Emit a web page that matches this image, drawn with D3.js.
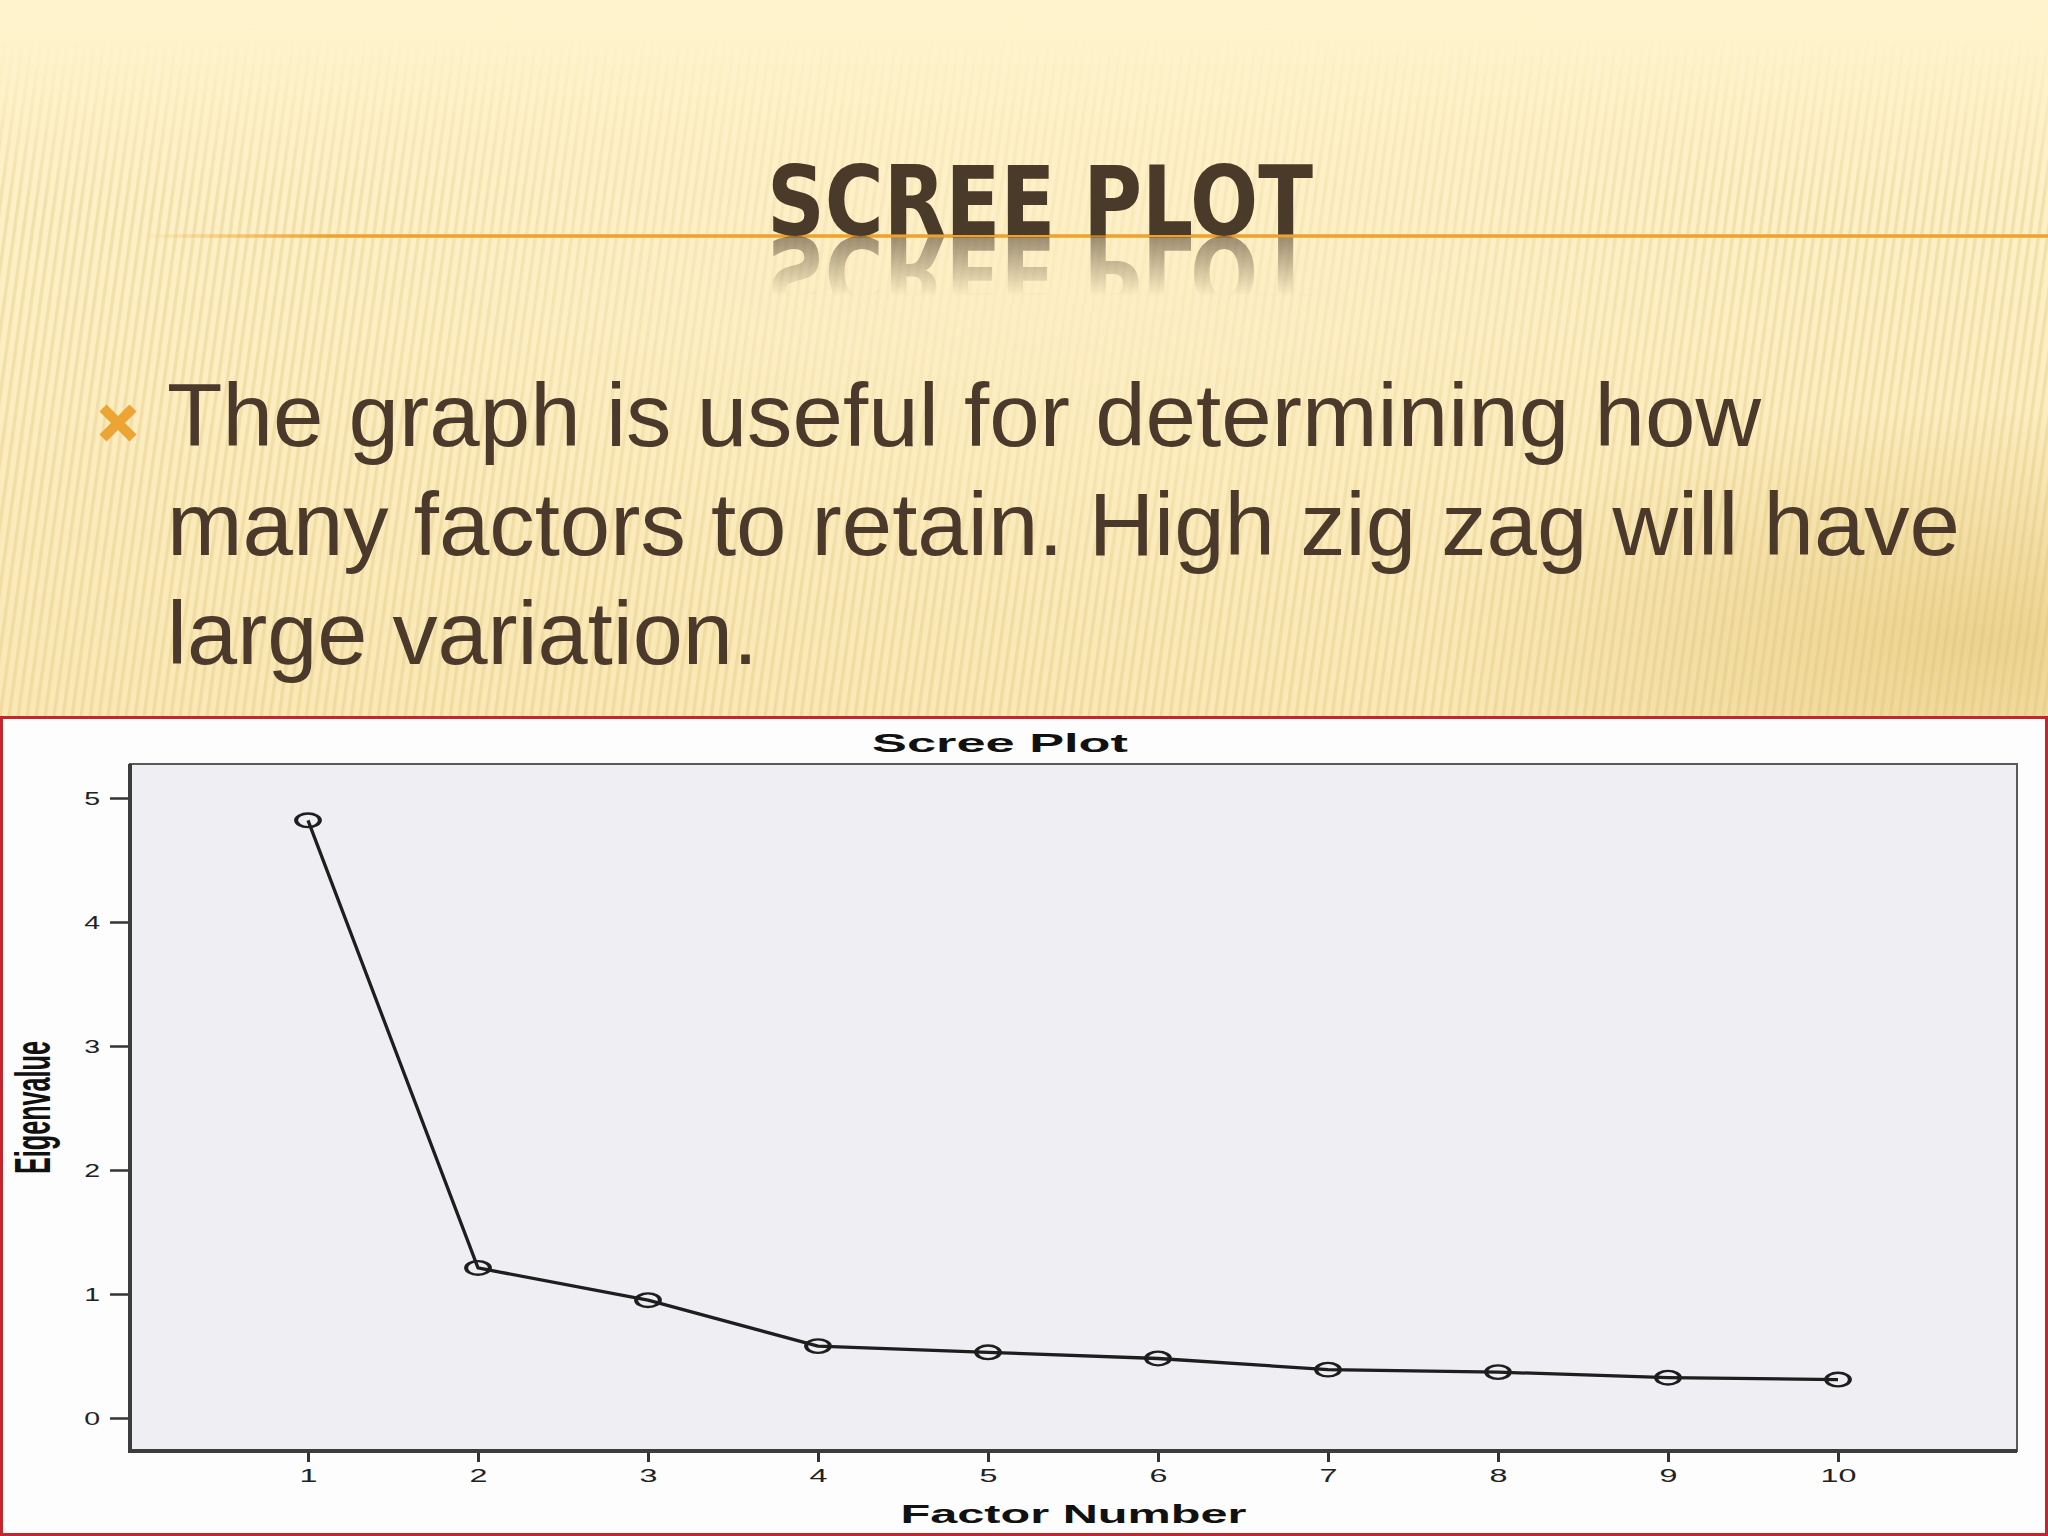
<!DOCTYPE html>
<html>
<head>
<meta charset="utf-8">
<script src="https://cdn.jsdelivr.net/npm/d3@7"></script>
<style>
html, body { margin: 0; padding: 0; background: #fdf1c8; }
svg { display: block; }
</style>
</head>
<body>
<svg id="slide" width="2048" height="1536" xmlns:xlink="http://www.w3.org/1999/xlink"></svg>
<script>
// slide text
var slideTitle = "SCREE PLOT";
var bulletLines = ["The graph is useful for determining how",
                   "many factors to retain. High zig zag will have",
                   "large variation."];

// chart data
var chartTitle = "Scree Plot";
var xAxisTitle = "Factor Number";
var yAxisTitle = "Eigenvalue";
var factorNumbers = [1, 2, 3, 4, 5, 6, 7, 8, 9, 10];
var eigenvalues = [4.82, 1.21, 0.95, 0.58, 0.53, 0.48, 0.39, 0.37, 0.325, 0.31];
var yTicks = [0, 1, 2, 3, 4, 5];

/**
 * Draws the slide background, the heading and the bullet text
 */
function drawSlide(svg)
{
    var defs = svg.append("defs");

    var bg = defs.append("linearGradient").attr("id", "bgGrad")
            .attr("x1", 0).attr("y1", 0).attr("x2", 0).attr("y2", 1);
    bg.append("stop").attr("offset", "0").attr("stop-color", "#fef3cc");
    bg.append("stop").attr("offset", "0.2").attr("stop-color", "#fdefc4");
    bg.append("stop").attr("offset", "0.5").attr("stop-color", "#f9e7b3");
    bg.append("stop").attr("offset", "1").attr("stop-color", "#f3dc9c");

    var pat = defs.append("pattern").attr("id", "stripes")
            .attr("patternUnits", "userSpaceOnUse")
            .attr("width", 9).attr("height", 60)
            .attr("patternTransform", "skewX(-8)");
    pat.append("rect").attr("x", 0).attr("y", 0)
            .attr("width", 3.5).attr("height", 60)
            .attr("fill", "#dcbd6e");

    var fadeV = defs.append("linearGradient").attr("id", "fadeV")
            .attr("gradientUnits", "userSpaceOnUse")
            .attr("x1", 0).attr("y1", 40).attr("x2", 0).attr("y2", 200);
    fadeV.append("stop").attr("offset", "0").attr("stop-color", "#000");
    fadeV.append("stop").attr("offset", "1").attr("stop-color", "#fff");

    var fadeC = defs.append("radialGradient").attr("id", "fadeC");
    fadeC.append("stop").attr("offset", "0").attr("stop-color", "#000").attr("stop-opacity", 0.85);
    fadeC.append("stop").attr("offset", "1").attr("stop-color", "#000").attr("stop-opacity", 0);

    var mask = defs.append("mask").attr("id", "stripeMask");
    mask.append("rect").attr("width", 2048).attr("height", 720).attr("fill", "url(#fadeV)");
    mask.append("ellipse").attr("cx", 1050).attr("cy", 300)
            .attr("rx", 750).attr("ry", 300).attr("fill", "url(#fadeC)");

    var blob = defs.append("radialGradient").attr("id", "blob");
    blob.append("stop").attr("offset", "0").attr("stop-color", "#e0c170").attr("stop-opacity", 0.55);
    blob.append("stop").attr("offset", "1").attr("stop-color", "#e0c170").attr("stop-opacity", 0);

    var lineFade = defs.append("linearGradient").attr("id", "lineFade")
            .attr("gradientUnits", "userSpaceOnUse")
            .attr("x1", 140).attr("y1", 0).attr("x2", 330).attr("y2", 0);
    lineFade.append("stop").attr("offset", "0").attr("stop-color", "#eea22c").attr("stop-opacity", 0);
    lineFade.append("stop").attr("offset", "1").attr("stop-color", "#eea22c").attr("stop-opacity", 1);

    var reflFade = defs.append("linearGradient").attr("id", "reflFade")
            .attr("gradientUnits", "userSpaceOnUse")
            .attr("x1", 0).attr("y1", 236).attr("x2", 0).attr("y2", 296);
    reflFade.append("stop").attr("offset", "0").attr("stop-color", "#fff").attr("stop-opacity", 0.55);
    reflFade.append("stop").attr("offset", "1").attr("stop-color", "#fff").attr("stop-opacity", 0);
    defs.append("mask").attr("id", "reflMask")
            .append("rect").attr("x", 0).attr("y", 236)
            .attr("width", 2048).attr("height", 70).attr("fill", "url(#reflFade)");

    svg.append("rect").attr("width", 2048).attr("height", 1536).attr("fill", "url(#bgGrad)");
    svg.append("ellipse").attr("cx", 1980).attr("cy", 640)
            .attr("rx", 560).attr("ry", 230).attr("fill", "url(#blob)");
    svg.append("rect").attr("width", 2048).attr("height", 720)
            .attr("fill", "url(#stripes)").attr("opacity", 0.3)
            .attr("mask", "url(#stripeMask)");

    // heading rule
    svg.append("line")
            .attr("x1", 140).attr("x2", 2048).attr("y1", 236).attr("y2", 236)
            .style("stroke", "url(#lineFade)")
            .style("stroke-width", "3.5px");

    var titleFont = "'Liberation Sans Narrow', 'DejaVu Sans Condensed', 'Liberation Sans', sans-serif";

    svg.append("text")
            .attr("id", "slideTitle")
            .attr("x", 1040).attr("y", 235)
            .attr("text-anchor", "middle")
            .attr("textLength", 546).attr("lengthAdjust", "spacingAndGlyphs")
            .style("font-family", titleFont)
            .style("font-weight", "bold")
            .style("font-size", "97px")
            .style("fill", "#4a3a2a")
            .text(slideTitle);

    // reflection of the heading, as a mirrored copy
    svg.append("g").attr("mask", "url(#reflMask)")
            .append("use")
            .attr("href", "#slideTitle")
            .attr("transform", "translate(0,472) scale(1,-1)");

    // bullet mark
    svg.append("path")
            .attr("transform", "translate(118,423)")
            .attr("d", "M-15,-15L15,15M15,-15L-15,15")
            .style("stroke", "#eca534")
            .style("stroke-width", "10px")
            .style("fill", "none");

    var lineWidths = [1594, 1793, 591];
    svg.selectAll("text.body")
            .data(bulletLines)
            .enter().append("text")
            .attr("class", "body")
            .attr("x", 167)
            .attr("y", function(d, i) { return 446 + i * 109; })
            .attr("textLength", function(d, i) { return lineWidths[i]; })
            .attr("lengthAdjust", "spacingAndGlyphs")
            .style("font-family", "'Liberation Sans', Arial, sans-serif")
            .style("font-size", "89px")
            .style("fill", "#4b3a2b")
            .text(function(d) { return d; });
}

/**
 * Draws the SPSS style scree plot
 */
function drawScreePlot(svg)
{
    var font = "'Liberation Sans', Arial, sans-serif";
    var plot = {left: 130, top: 764, right: 2017, bottom: 1451};

    var x = d3.scaleLinear().domain([1, 10]).range([308, 1838]);
    var y = d3.scaleLinear().domain([0, 5]).range([1418, 798]);

    // chart frame
    svg.append("rect")
            .attr("x", 1.5).attr("y", 717.5)
            .attr("width", 2045).attr("height", 817)
            .style("fill", "#fdfdfe")
            .style("stroke", "#c3262e")
            .style("stroke-width", "3px");

    svg.append("rect")
            .attr("x", plot.left).attr("y", plot.top)
            .attr("width", plot.right - plot.left)
            .attr("height", plot.bottom - plot.top)
            .style("fill", "#efeef2")
            .style("stroke", "#5a5a5a")
            .style("stroke-width", "2px");

    var gx = svg.append("g")
            .attr("transform", "translate(0," + plot.bottom + ")")
            .call(d3.axisBottom(x).tickValues(factorNumbers)
                    .tickSize(11).tickSizeOuter(0).tickFormat(d3.format("d")));
    gx.select(".domain").remove();
    gx.selectAll(".tick line").style("stroke", "#333").style("stroke-width", "3px");
    gx.selectAll(".tick text")
            .attr("y", 18)
            .attr("transform", "scale(1.7,1)")
            .style("font-family", font)
            .style("font-size", "19px")
            .style("fill", "#222");

    var gy = svg.append("g")
            .attr("transform", "translate(" + plot.left + ",0)")
            .call(d3.axisLeft(y).tickValues(yTicks)
                    .tickSize(20).tickSizeOuter(0).tickFormat(d3.format("d")));
    gy.select(".domain").remove();
    gy.selectAll(".tick line").style("stroke", "#333").style("stroke-width", "2.5px");
    gy.selectAll(".tick text")
            .attr("x", -20)
            .attr("transform", "scale(1.5,1)")
            .style("font-family", font)
            .style("font-size", "19px")
            .style("fill", "#222");

    // heavy axis lines
    svg.append("path")
            .attr("d", "M" + plot.left + "," + plot.top + "V" + plot.bottom + "H" + plot.right)
            .style("fill", "none")
            .style("stroke", "#3c3c3c")
            .style("stroke-width", "4px");

    var line = d3.line()
            .x(function(d, i) { return x(factorNumbers[i]); })
            .y(function(d) { return y(d); });

    svg.append("path")
            .datum(eigenvalues)
            .attr("d", line)
            .style("fill", "none")
            .style("stroke", "#1e1e1e")
            .style("stroke-width", "3.3px")
            .style("stroke-linejoin", "round");

    svg.selectAll("circle.pt")
            .data(eigenvalues)
            .enter().append("circle")
            .attr("class", "pt")
            .attr("r", 6.8)
            .attr("transform", function(d, i) {
                return "translate(" + x(factorNumbers[i]) + "," + y(d) + ") scale(1.75,1)";
            })
            .style("fill", "none")
            .style("stroke", "#1e1e1e")
            .style("stroke-width", "2.3px");

    svg.append("text")
            .attr("x", 1000).attr("y", 752)
            .attr("text-anchor", "middle")
            .attr("textLength", 256).attr("lengthAdjust", "spacingAndGlyphs")
            .style("font-family", font)
            .style("font-weight", "bold")
            .style("font-size", "26px")
            .style("fill", "#111")
            .text(chartTitle);

    svg.append("text")
            .attr("x", (plot.left + plot.right) / 2).attr("y", 1523)
            .attr("text-anchor", "middle")
            .attr("textLength", 346).attr("lengthAdjust", "spacingAndGlyphs")
            .style("font-family", font)
            .style("font-weight", "bold")
            .style("font-size", "25px")
            .style("fill", "#111")
            .text(xAxisTitle);

    svg.append("text")
            .attr("transform", "translate(50," + (plot.top + plot.bottom) / 2 + ") scale(1.95,1) rotate(-90)")
            .attr("text-anchor", "middle")
            .attr("textLength", 133).attr("lengthAdjust", "spacingAndGlyphs")
            .style("font-family", font)
            .style("font-weight", "bold")
            .style("font-size", "25.5px")
            .style("fill", "#111")
            .text(yAxisTitle);
}

var svg = d3.select("#slide");
drawSlide(svg);
drawScreePlot(svg);
</script>
</body>
</html>
